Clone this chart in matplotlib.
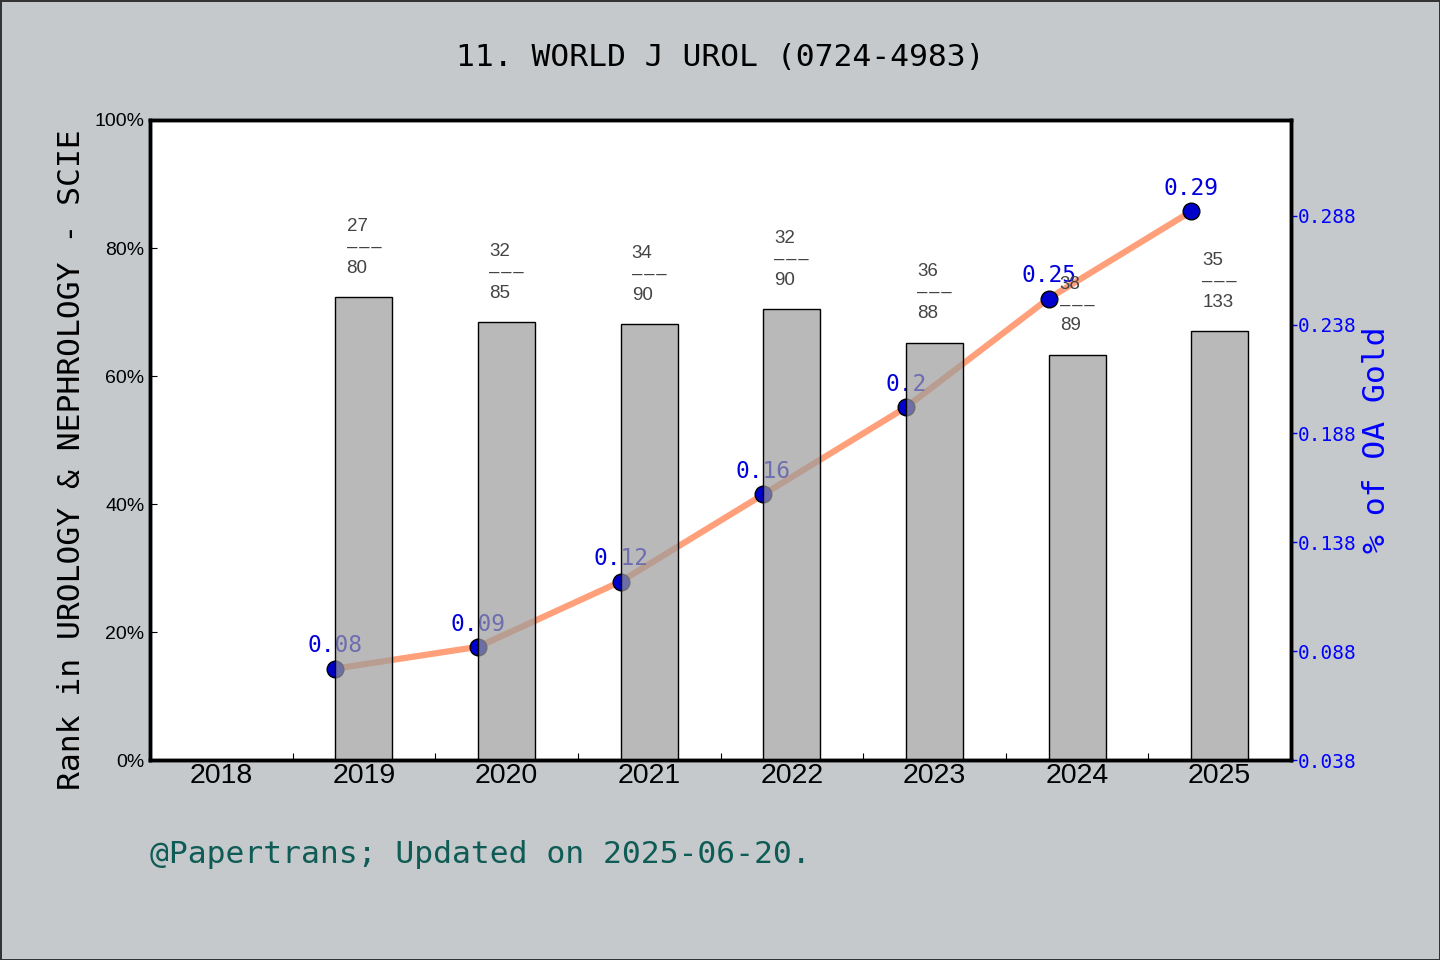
import numpy as np
import matplotlib
matplotlib.use('Agg')
import matplotlib.pyplot as plt

years = [2018, 2019, 2020, 2021, 2022, 2023, 2024, 2025]
bar_years = [2019, 2020, 2021, 2022, 2023, 2024, 2025]
rank_pct = [72.3, 68.4, 68.1, 70.4, 65.2, 63.3, 67.0]
ranks = [27, 32, 34, 32, 36, 38, 35]
totals = [80, 85, 90, 90, 88, 89, 133]
oa_gold = [0.08, 0.09, 0.12, 0.16, 0.2, 0.25, 0.29]

mono = 'DejaVu Sans Mono'
sans = 'Liberation Sans'
bg = '#c5c9cc'

fig = plt.figure(figsize=(14.4, 9.6), dpi=100)
fig.patch.set_facecolor(bg)
fig.patch.set_edgecolor('#333333')
fig.patch.set_linewidth(2)

ax1 = fig.add_axes([0.1042, 0.2083, 0.7923, 0.6667])
ax2 = ax1.twinx()
# bars on top of the line
ax1.set_zorder(ax2.get_zorder() + 1)
ax1.patch.set_visible(False)
ax2.patch.set_facecolor('white')
ax2.patch.set_visible(True)

# line on right axis
line_x = np.array(bar_years) - 0.2
ax2.plot(line_x, oa_gold, color='#ffa07a', lw=4.5, zorder=2)
ax2.plot(line_x, oa_gold, 'o', color='#0000cd', mec='black', mew=1, ms=12, zorder=3)
for x, v in zip(line_x, oa_gold):
    ax2.annotate(f'{v:g}', (x, v), xytext=(0, 8), textcoords='offset points',
                 ha='center', va='bottom', color='#0000dd', fontsize=16.5, family=mono)
ax2.set_ylim(min(oa_gold) - 0.042, max(oa_gold) + 0.042)
ticks_r = np.arange(0.038, 0.30, 0.05)
ax2.set_yticks(ticks_r)
ax2.set_yticklabels([f'{t:.3f}' for t in ticks_r], family=mono)
ax2.tick_params(axis='y', colors='blue', labelsize=14, direction='out', length=4, width=1, pad=1)
ax2.set_ylabel('% of OA Gold', color='blue', fontsize=22.6, family=mono, labelpad=4)

# bars on left axis
ax1.bar(bar_years, rank_pct, width=0.4, facecolor=(0.61, 0.61, 0.61, 0.7),
        edgecolor='black', linewidth=1, zorder=2)
for x, h, r, t in zip(bar_years, rank_pct, ranks, totals):
    ax1.text(x, h + 3.2, f'{r}\n\u2013\u200a\u2013\u200a\u2013\n{t}', ha='center', va='bottom',
             multialignment='left', color='#444444', fontsize=13.5,
             family=[sans, 'DejaVu Sans'], linespacing=1.3, zorder=3)

ax1.set_xlim(2017.5, 2025.5)
ax1.set_ylim(0, 100)
ax1.set_yticks(range(0, 101, 20))
ax1.set_yticklabels([f'{v}%' for v in range(0, 101, 20)], family=sans)
ax1.tick_params(axis='y', direction='in', length=5, labelsize=14, pad=4)
ax1.set_xticks([y + 0.5 for y in years[:-1]])
ax1.set_xticklabels([])
ax1.set_xticks(years, minor=True)
ax1.set_xticklabels([str(y) for y in years], minor=True, family=sans, fontsize=20.5)
ax1.tick_params(axis='x', which='major', direction='in', length=5)
ax1.tick_params(axis='x', which='minor', length=0, pad=2)
ax1.set_ylabel('Rank in UROLOGY & NEPHROLOGY - SCIE', fontsize=22.6, family=mono)
ax1.yaxis.set_label_coords(-0.056, 0.47)

for a in (ax1, ax2):
    for s in a.spines.values():
        s.set_linewidth(2.5)
        s.set_color('black')

fig.text(0.5, 0.94, '11. WORLD J UROL (0724-4983)', ha='center', va='center',
         fontsize=22.6, family=mono)
fig.text(0.104, 0.11, '@Papertrans; Updated on 2025-06-20.', ha='left', va='center',
         fontsize=22.6, family=mono, color='#0e5c55')

fig.savefig('out.png', dpi=100, facecolor=fig.get_facecolor(), edgecolor=fig.get_edgecolor())
